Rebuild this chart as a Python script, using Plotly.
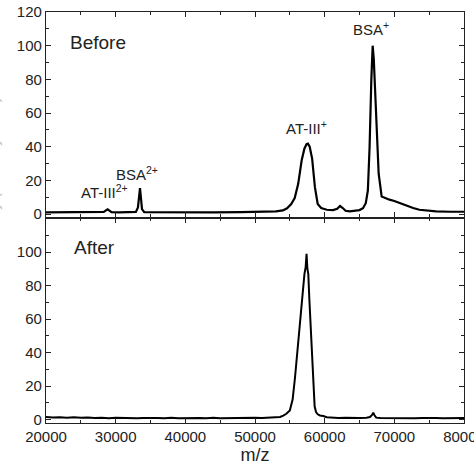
import plotly.graph_objects as go
from plotly.subplots import make_subplots

# spectrum before (m/z, normalized intensity)
before_mz = [20000, 21500, 23000, 24500, 26000, 27500, 28300, 28600, 28850, 29100, 29400,
             30500, 32000, 32900, 33200, 33350, 33490, 33620, 33780, 34100, 36000, 40000,
             44000, 48000, 51000, 53000, 54000, 54600, 55200, 55700, 56200, 56700, 57100,
             57400, 57600, 57850, 58200, 58600, 59000, 59500, 60300, 61200, 61800, 62200,
             62600, 63000, 63600, 64300, 65000, 65500, 65900, 66200, 66450, 66700, 66890,
             67050, 67250, 67460, 67750, 68180, 68660, 69300, 70000, 70800, 71700, 72700,
             73600, 74640, 76000, 78000, 80000]
before_int = [1.0, 1.0, 1.0, 1.1, 1.0, 1.1, 1.3, 2.2, 2.8, 2.1, 1.2,
              1.1, 1.1, 1.3, 4.0, 11.0, 15.4, 10.0, 3.0, 1.2, 1.1, 1.1,
              1.1, 1.2, 1.3, 1.6, 2.2, 3.5, 6.0, 9.5, 18.0, 32.0, 39.0,
              41.5, 41.8, 40.0, 33.0, 16.0, 6.0, 3.6, 2.6, 2.4, 3.2, 4.8,
              3.6, 2.0, 1.6, 1.8, 2.4, 3.5, 6.5, 14.0, 40.0, 80.0, 100.0,
              92.0, 70.0, 48.0, 24.0, 10.5, 9.5, 8.6, 7.8, 6.5, 5.2, 3.6,
              2.6, 2.0, 1.6, 1.4, 1.4]

# spectrum after
after_mz = [20000, 21000, 22000, 23000, 24000, 25000, 26000, 27000, 28000, 29000, 30000,
            31000, 32000, 33000, 34000, 35000, 36000, 37000, 38000, 39000, 40000, 41000,
            42000, 43000, 44000, 45000, 46000, 47000, 48000, 49000, 50000, 51000, 52000,
            53000, 53600, 54060, 54500, 55000, 55400, 55740, 56100, 56460, 56700, 56940,
            57100, 57270, 57400, 57520, 57650, 57800, 58000, 58200, 58370, 58560, 58760,
            59000, 59330, 59800, 60300, 61000, 62000, 63000, 64000, 65000, 66000, 66500,
            66800, 66980, 67150, 67400, 68000, 69000, 70000, 71000, 72000, 73000, 74000,
            75000, 76000, 77000, 78000, 79000, 80000]
after_int = [1.6, 1.3, 1.5, 1.2, 1.4, 1.1, 1.3, 1.0, 1.2, 0.9, 1.1,
             0.9, 1.0, 0.8, 1.0, 0.8, 1.0, 0.9, 1.1, 0.8, 1.0, 0.9,
             1.0, 0.8, 1.1, 0.9, 1.0, 0.8, 1.0, 1.0, 1.2, 1.0, 1.3,
             1.2, 1.6, 2.4, 3.5, 5.5, 12.0, 25.0, 42.0, 59.0, 72.0, 83.0,
             87.0, 91.0, 99.0, 90.0, 87.0, 72.0, 53.0, 32.0, 17.0, 8.0, 4.5,
             3.2, 2.5, 2.2, 1.4, 1.2, 1.0, 1.1, 0.9, 1.0, 1.1, 1.6,
             2.8, 4.2, 2.6, 1.2, 1.0, 0.9, 1.1, 0.8, 1.0, 0.9, 1.0,
             0.8, 1.0, 0.9, 1.0, 0.8, 1.0]

x_ticks = [20000, 30000, 40000, 50000, 60000, 70000, 80000]
x_labels = ["20000", "30000", "40000", "50000", "60000", "70000", "80000"]
top_yticks = [0, 20, 40, 60, 80, 100, 120]
bottom_yticks = [0, 20, 40, 60, 80, 100]

font = "Liberation Sans, Arial, sans-serif"
ink = "#222222"

fig = make_subplots(rows=2, cols=1, shared_xaxes=True, vertical_spacing=0)
fig.add_trace(go.Scatter(x=before_mz, y=before_int, mode="lines",
                         line=dict(color="black", width=2.2)), row=1, col=1)
fig.add_trace(go.Scatter(x=after_mz, y=after_int, mode="lines",
                         line=dict(color="black", width=2)), row=2, col=1)

axis_common = dict(showline=True, linecolor=ink, linewidth=1.3, mirror="ticks",
                   ticks="inside", ticklen=5, tickwidth=1, tickcolor=ink,
                   showgrid=False, zeroline=False, automargin=False,
                   ticklabeloverflow="allow",
                   tickfont=dict(family=font, size=15, color=ink))

fig.update_xaxes(**axis_common, range=[20000, 80000], tickvals=x_ticks, ticktext=x_labels,
                 minor=dict(ticks="inside", ticklen=3, dtick=5000, tick0=20000,
                            tickcolor=ink))
fig.update_xaxes(showticklabels=False, row=1, col=1)
fig.update_xaxes(title=dict(text="m/z", font=dict(family=font, size=18, color=ink),
                            standoff=4), row=2, col=1)
fig.update_yaxes(**axis_common,
                 minor=dict(ticks="inside", ticklen=3, dtick=10, tick0=0, tickcolor=ink))
fig.update_yaxes(range=[-2, 120], tickvals=top_yticks, row=1, col=1)
fig.update_yaxes(range=[-2, 120.6], tickvals=bottom_yticks, row=2, col=1)

labels = [("Before", 27400, 102, 19, "y"), ("After", 26950, 103, 19, "y2"),
          ("AT-III<sup>2+</sup>", 28400, 13.5, 15, "y"),
          ("BSA<sup>2+</sup>", 33100, 24, 15, "y"),
          ("AT-III<sup>+</sup>", 57400, 51.5, 15, "y"),
          ("BSA<sup>+</sup>", 66600, 110, 15, "y")]
for text, x, y, size, yref in labels:
    fig.add_annotation(x=x, y=y, xref="x" if yref == "y" else "x2", yref=yref,
                       text=text, showarrow=False,
                       font=dict(family=font, size=size, color=ink))

# y title, mostly cut off at the left edge in the original
fig.add_annotation(x=-0.1, y=0.5, xref="paper", yref="paper", xanchor="right",
                   text="Normalized Intensity (arbitrary units)", textangle=-90,
                   showarrow=False, font=dict(family=font, size=15, color="#bbbbbb"))

fig.update_layout(width=474, height=474, showlegend=False,
                  plot_bgcolor="white", paper_bgcolor="white",
                  margin=dict(l=46, r=10, t=12, b=51))

# drop the page's default body margin so the figure sits at the window corner
fig.write_html("out.html", config={"displayModeBar": False},
               post_script="document.body.style.margin = '0';")
